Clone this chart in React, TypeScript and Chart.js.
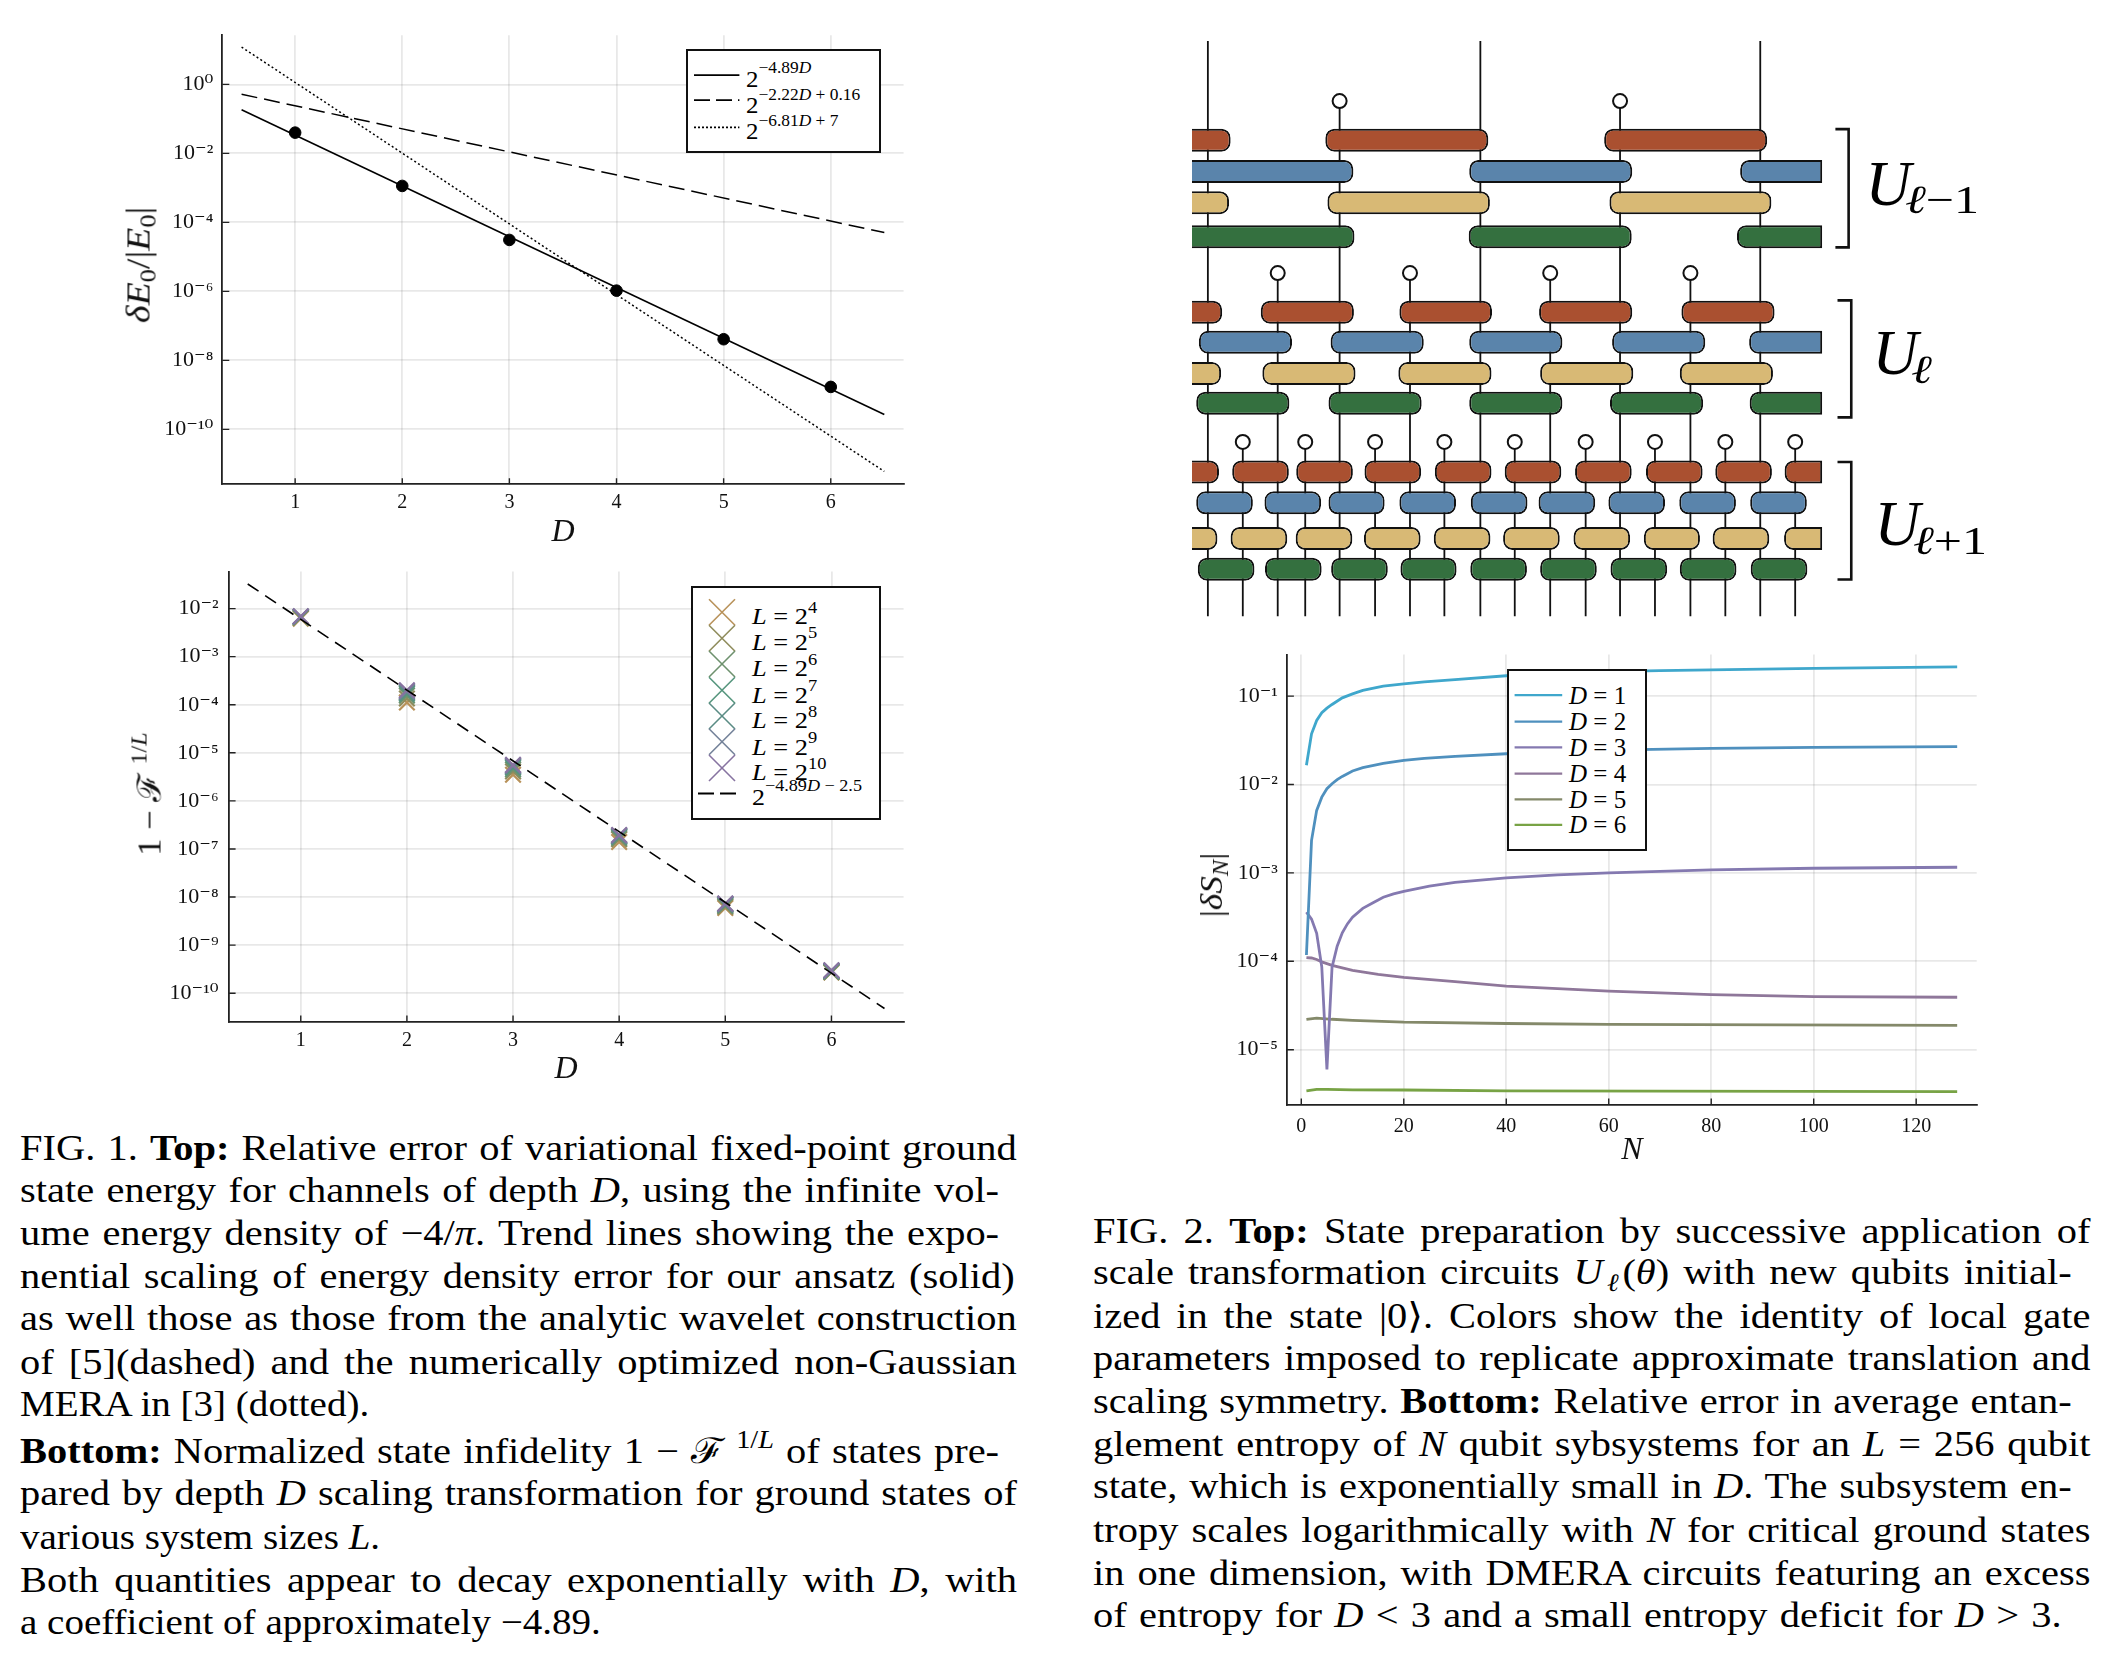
import React, { useEffect, useRef } from "react";
import { Chart, registerables } from "chart.js";

Chart.register(...registerables);

const SERIF = '"Liberation Serif", "DejaVu Serif", serif';

// ---------- Energy error chart ----------
const energyD = [1, 2, 3, 4, 5, 6];
const energyError = [0.04, 1.14e-3, 3.1e-5, 1.05e-6, 4.1e-8, 1.7e-9];
const trendD = [0.5, 6.5];
const trendSolid = [0.184, 2.7e-10];
const trendDashed = [0.518, 5.06e-5];
const trendDotted = [12.1, 6.0e-12];
const energyYTicks = [1, 1e-2, 1e-4, 1e-6, 1e-8, 1e-10];
const energyYLabels = ["10⁰", "10⁻²", "10⁻⁴", "10⁻⁶", "10⁻⁸", "10⁻¹⁰"];
const depthTicks = [1, 2, 3, 4, 5, 6];
const depthLabels = ["1", "2", "3", "4", "5", "6"];

// ---------- Infidelity chart ----------
const infidelityL4 = [6.2e-3, 1.12e-4, 3.5e-6, 1.4e-7, 5.9e-9, 2.7e-10];
const infidelityL5 = [6.4e-3, 1.35e-4, 4.1e-6, 1.6e-7, 6.3e-9, 2.75e-10];
const infidelityL6 = [6.6e-3, 1.55e-4, 4.5e-6, 1.7e-7, 6.6e-9, 2.8e-10];
const infidelityL7 = [6.7e-3, 1.7e-4, 4.9e-6, 1.8e-7, 6.9e-9, 2.85e-10];
const infidelityL8 = [6.8e-3, 1.8e-4, 5.2e-6, 1.85e-7, 7.1e-9, 2.9e-10];
const infidelityL9 = [6.85e-3, 1.9e-4, 5.4e-6, 1.9e-7, 7.2e-9, 2.95e-10];
const infidelityL10 = [6.9e-3, 2.0e-4, 5.6e-6, 1.95e-7, 7.3e-9, 3.0e-10];
const infidelitySeries = [infidelityL4, infidelityL5, infidelityL6, infidelityL7, infidelityL8, infidelityL9, infidelityL10];
const infidelityNames = ["*L* = 2^{4}", "*L* = 2^{5}", "*L* = 2^{6}", "*L* = 2^{7}", "*L* = 2^{8}", "*L* = 2^{9}", "*L* = 2^{10}"];
const infidelityColors = ["#B8925A", "#8F8C5C", "#6E916E", "#55967D", "#5A8C84", "#738299", "#8773A0"];
const infidelityFit = [0.0325, 4.8e-11];
const infidelityYTicks = [1e-2, 1e-3, 1e-4, 1e-5, 1e-6, 1e-7, 1e-8, 1e-9, 1e-10];
const infidelityYLabels = ["10⁻²", "10⁻³", "10⁻⁴", "10⁻⁵", "10⁻⁶", "10⁻⁷", "10⁻⁸", "10⁻⁹", "10⁻¹⁰"];

// ---------- Entropy chart ----------
const entropyD1N = [1, 2, 3, 4, 5, 6, 8, 10, 12, 16, 20, 24, 30, 40, 50, 60, 70, 80, 100, 128];
const entropyD1 = [0.0165, 0.0375, 0.0531, 0.0648, 0.0731, 0.0805, 0.0957, 0.106, 0.116, 0.1297, 0.1377, 0.145, 0.154, 0.17, 0.181, 0.189, 0.194, 0.198, 0.2065, 0.214];
const entropyD2N = [1, 2, 3, 4, 5, 6, 7, 8, 10, 12, 16, 20, 24, 30, 40, 50, 60, 80, 100, 128];
const entropyD2 = [1.18e-4, 2.34e-3, 5.1e-3, 7.2e-3, 8.97e-3, 0.0102, 0.01135, 0.01236, 0.01422, 0.0155, 0.01733, 0.01875, 0.01976, 0.0208, 0.0223, 0.0236, 0.0245, 0.0256, 0.0263, 0.0268];
const entropyD3N = [1, 2, 3, 4, 5, 6, 7, 8, 9, 10, 12, 14, 16, 18, 20, 25, 30, 40, 50, 60, 80, 100, 128];
const entropyD3 = [3.6e-4, 3.0e-4, 2.07e-4, 8.6e-5, 6.0e-6, 8.6e-5, 1.48e-4, 2.1e-4, 2.65e-4, 3.16e-4, 3.97e-4, 4.6e-4, 5.3e-4, 5.8e-4, 6.2e-4, 7.1e-4, 7.8e-4, 8.77e-4, 9.5e-4, 1.0e-3, 1.08e-3, 1.13e-3, 1.16e-3];
const entropyD4N = [1, 2, 3, 4, 6, 10, 15, 20, 30, 40, 50, 60, 80, 100, 128];
const entropyD4 = [1.1e-4, 1.09e-4, 1.05e-4, 9.86e-5, 9.0e-5, 7.9e-5, 7.1e-5, 6.6e-5, 5.9e-5, 5.25e-5, 4.9e-5, 4.6e-5, 4.2e-5, 3.98e-5, 3.92e-5];
const entropyD5N = [1, 3, 6, 10, 20, 40, 60, 128];
const entropyD5 = [2.2e-5, 2.28e-5, 2.21e-5, 2.15e-5, 2.05e-5, 1.98e-5, 1.93e-5, 1.89e-5];
const entropyD6N = [1, 3, 5, 10, 20, 40, 128];
const entropyD6 = [3.42e-6, 3.55e-6, 3.55e-6, 3.52e-6, 3.5e-6, 3.42e-6, 3.36e-6];
const entropyColors = ["#3FA7CC", "#4F90BE", "#8479B0", "#8F779A", "#84896A", "#78A345"];
const entropyNames = ["*D* = 1", "*D* = 2", "*D* = 3", "*D* = 4", "*D* = 5", "*D* = 6"];
const entropyXTicks = [0, 20, 40, 60, 80, 100, 120];
const entropyXLabels = ["0", "20", "40", "60", "80", "100", "120"];
const entropyYTicks = [1e-1, 1e-2, 1e-3, 1e-4, 1e-5];
const entropyYLabels = ["10⁻¹", "10⁻²", "10⁻³", "10⁻⁴", "10⁻⁵"];

// ---------- Circuit diagram, in diagram units ----------
const rowsRed = [304, 739, 1143];
const rowsBlue = [383, 815, 1221];
const rowsTan = [462, 894, 1311];
const rowsGreen = [548, 969, 1389];
const redGates = [
  [[-60, 95], [274, 582], [801, 1109]],
  [[-60, 79], [152, 328], [414, 589], [678, 854], [947, 1123]],
  [[-60, 73], [98, 205], [219, 326], [348, 455], [481, 588], [613, 720], [746, 853], [880, 987], [1011, 1118], [1142, 1213]],
];
const blueGates = [
  [[-60, 327], [546, 854], [1058, 1213]],
  [[35, 211], [284, 460], [546, 722], [816, 992], [1075, 1213]],
  [[30, 137], [159, 266], [280, 386], [414, 521], [549, 656], [677, 784], [809, 916], [943, 1050], [1077, 1184]],
];
const tanGates = [
  [[-60, 92], [278, 585], [811, 1117]],
  [[-60, 77], [155, 331], [412, 588], [680, 856], [944, 1120]],
  [[-60, 70], [95, 202], [218, 325], [347, 454], [479, 586], [610, 717], [743, 850], [876, 982], [1006, 1113], [1141, 1213]],
];
const greenGates = [
  [[-60, 329], [545, 853], [1052, 1213]],
  [[30, 206], [280, 456], [546, 722], [812, 988], [1076, 1213]],
  [[33, 140], [160, 267], [285, 392], [416, 522], [548, 655], [680, 787], [813, 920], [944, 1051], [1078, 1185]],
];
const gateColors = ["#AA5030", "#5A84AB", "#D8B975", "#34703F"];
const wiresFromTop = [52, 567, 1096];
const qubitsOuter = [301, 831];
const qubitsMiddle = [184, 434, 699, 964];
const qubitsInner = [118, 236, 368, 499, 632, 766, 897, 1030, 1162];
const qubitRowY = [205, 640, 1067];
const wireTopY = 53;
const wireBottomY = 1508;
const brackets = [
  [1238, 1263, 276, 575],
  [1242, 1268, 709, 1005],
  [1242, 1268, 1118, 1415],
];

// ---------- Captions ----------
const caption1 = [
  "FIG. 1. **Top:** Relative error of variational fixed-point ground",
  "state energy for channels of depth *D*, using the infinite vol-",
  "ume energy density of −4/*π*. Trend lines showing the expo-",
  "nential scaling of energy density error for our ansatz (solid)",
  "as well those as those from the analytic wavelet construction",
  "of [5](dashed) and the numerically optimized non-Gaussian",
  "MERA in [3] (dotted).",
  "**Bottom:** Normalized state infidelity 1 − ℱ ^{1/*L*} of states pre-",
  "pared by depth *D* scaling transformation for ground states of",
  "various system sizes *L*.",
  "Both quantities appear to decay exponentially with *D*, with",
  "a coefficient of approximately −4.89.",
];
const caption1Baselines = [1160.5, 1202.5, 1245, 1288, 1330.5, 1374, 1416, 1463, 1505.5, 1549, 1592, 1634];
const caption1Rights = [1016.6, 999, 999, 1014.6, 1016.6, 1016.6, 0, 999, 1017, 0, 1017, 0];
const caption2 = [
  "FIG. 2. **Top:** State preparation by successive application of",
  "scale transformation circuits *U*_{*ℓ*}(*θ*) with new qubits initial-",
  "ized in the state |0⟩. Colors show the identity of local gate",
  "parameters imposed to replicate approximate translation and",
  "scaling symmetry. **Bottom:** Relative error in average entan-",
  "glement entropy of *N* qubit sybsystems for an *L* = 256 qubit",
  "state, which is exponentially small in *D*. The subsystem en-",
  "tropy scales logarithmically with *N* for critical ground states",
  "in one dimension, with DMERA circuits featuring an excess",
  "of entropy for *D* < 3 and a small entropy deficit for *D* > 3.",
];
const caption2Baselines = [1243, 1284.6, 1328, 1370.6, 1413, 1456, 1498, 1542, 1585, 1627];
const caption2Rights = [2090.7, 2072, 2090.7, 2090.7, 2072, 2090.7, 2072, 2090.7, 2090.7, 2062];

function Rich({ text }: { text: string }) {
  const parts = text.split(/(\*\*[^*]+\*\*|\^\{[^}]+\}|_\{[^}]+\}|\*[^*]+\*)/).filter(Boolean);
  return (
    <>
      {parts.map((p, i) => {
        if (p.startsWith("**")) return <b key={i}>{p.slice(2, -2)}</b>;
        if (p.startsWith("^{"))
          return (
            <span key={i} style={{ fontSize: "0.7em", position: "relative", top: "var(--sup, -0.6em)", lineHeight: 0 }}>
              <Rich text={p.slice(2, -1)} />
            </span>
          );
        if (p.startsWith("_{"))
          return (
            <span key={i} style={{ fontSize: "0.7em", position: "relative", top: "0.25em", lineHeight: 0 }}>
              <Rich text={p.slice(2, -1)} />
            </span>
          );
        if (p.startsWith("*")) return <i key={i}>{p.slice(1, -1)}</i>;
        return <span key={i}>{p}</span>;
      })}
    </>
  );
}

function Label({ x, base, size, text, width, justify, sx = 1, sup }: any) {
  const style: any = {
    position: "absolute",
    left: x,
    top: base - 0.9375 * size,
    fontFamily: SERIF,
    fontSize: size,
    lineHeight: 1.2,
    color: "#000",
    width: width ? width / sx : undefined,
    textAlign: justify ? "justify" : "left",
    textAlignLast: justify ? "justify" : "left",
    whiteSpace: justify ? "normal" : "nowrap",
    transform: sx !== 1 ? `scaleX(${sx})` : undefined,
    transformOrigin: "left top",
  };
  if (sup) style["--sup"] = sup;
  return (
    <div style={style}>
      <Rich text={text} />
    </div>
  );
}

function VerticalTitle({ cx, cy, size, text, sx = 1 }: any) {
  return (
    <div
      style={{
        position: "absolute",
        left: cx,
        top: cy,
        fontFamily: SERIF,
        fontSize: size,
        lineHeight: 1,
        whiteSpace: "nowrap",
        color: "#111",
        transform: `translate(-50%, -50%) rotate(-90deg) scaleX(${sx})`,
      }}
    >
      <Rich text={text} />
    </div>
  );
}

function ChartBox({ left, top, width, height, config }: any) {
  const ref = useRef<HTMLCanvasElement | null>(null);
  useEffect(() => {
    const chart = new Chart(ref.current as HTMLCanvasElement, config);
    return () => chart.destroy();
  }, []);
  return <canvas ref={ref} width={width} height={height} style={{ position: "absolute", left, top, width, height }} />;
}

const inwardTicks = {
  id: "inwardTicks",
  afterDatasetsDraw(chart: any) {
    const { ctx, chartArea, scales } = chart;
    ctx.save();
    ctx.strokeStyle = "#222";
    ctx.lineWidth = 1.4;
    ctx.beginPath();
    scales.x.ticks.forEach((_: any, i: number) => {
      const p = scales.x.getPixelForTick(i);
      ctx.moveTo(p, chartArea.bottom);
      ctx.lineTo(p, chartArea.bottom - 6);
    });
    scales.y.ticks.forEach((_: any, i: number) => {
      const p = scales.y.getPixelForTick(i);
      ctx.moveTo(chartArea.left, p);
      ctx.lineTo(chartArea.left + 7, p);
    });
    ctx.stroke();
    ctx.restore();
  },
};

function axis(o: any) {
  const { type, min, max, ticks, labels, size, title, padding } = o;
  const isX = o.pos === "x";
  return {
    type,
    min,
    max,
    position: isX ? "bottom" : "left",
    afterBuildTicks(scale: any) {
      scale.ticks = ticks.map((value: number) => ({ value }));
    },
    afterFit(scale: any) {
      if (isX) scale.height = size;
      else scale.width = size;
      scale.paddingTop = 0;
      scale.paddingBottom = 0;
      scale.paddingLeft = 0;
      scale.paddingRight = 0;
    },
    grid: { color: "rgba(0,0,0,0.09)", lineWidth: 1.8, drawTicks: false },
    border: { display: true, color: "#222", width: 1.8 },
    ticks: {
      autoSkip: false,
      maxRotation: 0,
      padding,
      color: "#111",
      font: { family: SERIF, size: isX ? 20 : 22 },
      callback: (_v: any, i: number) => labels[i],
    },
    title: {
      display: !!title,
      text: title,
      color: "#111",
      padding: 0,
      font: { family: SERIF, size: 32, style: "italic", lineHeight: "36px" },
    },
  };
}

function baseOptions(x: any, y: any, padding: any) {
  return {
    animation: false,
    responsive: false,
    devicePixelRatio: 1,
    layout: { padding, autoPadding: false },
    plugins: { legend: { display: false }, tooltip: { enabled: false } },
    scales: { x: axis({ ...x, pos: "x" }), y: axis({ ...y, pos: "y" }) },
  };
}

const toPoints = (xs: number[], ys: number[]) => xs.map((x, i) => ({ x, y: ys[i] }));

const energyConfig: any = {
  type: "scatter",
  plugins: [inwardTicks],
  data: {
    datasets: [
      { label: "data", data: toPoints(energyD, energyError), pointRadius: 5.8, backgroundColor: "#000", borderColor: "#000" },
      { label: "2^(-4.89D)", data: toPoints(trendD, trendSolid), showLine: true, pointRadius: 0, borderColor: "#000", borderWidth: 1.6 },
      { label: "2^(-2.22D+0.16)", data: toPoints(trendD, trendDashed), showLine: true, pointRadius: 0, borderColor: "#000", borderWidth: 1.5, borderDash: [16, 7] },
      { label: "2^(-6.81D+7)", data: toPoints(trendD, trendDotted), showLine: true, pointRadius: 0, borderColor: "#000", borderWidth: 1.5, borderDash: [2, 2.5] },
    ],
  },
  options: baseOptions(
    { type: "linear", min: 0.32, max: 6.68, ticks: depthTicks, labels: depthLabels, size: 66.8, title: "D", padding: 7 },
    { type: "logarithmic", min: 2.57e-12, max: 26.7, ticks: energyYTicks, labels: energyYLabels, size: 102.3, padding: 9 },
    { top: 10.2, right: 12.4, left: 0, bottom: 0 }
  ),
};

const infidelityConfig: any = {
  type: "scatter",
  plugins: [inwardTicks],
  data: {
    datasets: [
      { label: "fit", order: 0, data: toPoints(trendD, infidelityFit), showLine: true, pointRadius: 0, borderColor: "#000", borderWidth: 1.6, borderDash: [13, 8] },
      ...infidelitySeries.map((s, i) => ({
        label: infidelityNames[i],
        order: 7 - i,
        data: toPoints(depthTicks, s),
        pointStyle: "crossRot",
        pointRadius: 11,
        pointBorderWidth: 2.2,
        borderColor: infidelityColors[i],
        backgroundColor: infidelityColors[i],
      })),
    ],
  },
  options: baseOptions(
    { type: "linear", min: 0.32, max: 6.68, ticks: depthTicks, labels: depthLabels, size: 66.6, title: "D", padding: 7 },
    { type: "logarithmic", min: 2.59e-11, max: 0.0594, ticks: infidelityYTicks, labels: infidelityYLabels, size: 96.6, padding: 10 },
    { top: 10.4, right: 12.4, left: 0, bottom: 0 }
  ),
};

const entropyLine = (i: number, xs: number[], ys: number[]) => ({
  label: "D=" + (i + 1),
  data: toPoints(xs, ys),
  showLine: true,
  pointRadius: 0,
  borderColor: entropyColors[i],
  borderWidth: 2.8,
});

const entropyConfig: any = {
  type: "scatter",
  plugins: [inwardTicks],
  data: {
    datasets: [
      entropyLine(0, entropyD1N, entropyD1),
      entropyLine(1, entropyD2N, entropyD2),
      entropyLine(2, entropyD3N, entropyD3),
      entropyLine(3, entropyD4N, entropyD4),
      entropyLine(4, entropyD5N, entropyD5),
      entropyLine(5, entropyD6N, entropyD6),
    ],
  },
  options: baseOptions(
    { type: "linear", min: -2.81, max: 131.81, ticks: entropyXTicks, labels: entropyXLabels, size: 64.5, title: "N", padding: 10 },
    { type: "logarithmic", min: 2.4e-6, max: 0.2958, ticks: entropyYTicks, labels: entropyYLabels, size: 93.9, padding: 9 },
    { top: 9.5, right: 14.3, left: 0, bottom: 0 }
  ),
};

// diagram: all gates in one horizontal floating-bar dataset
const gateGroups = [
  { rows: rowsRed, gates: redGates, color: gateColors[0] },
  { rows: rowsBlue, gates: blueGates, color: gateColors[1] },
  { rows: rowsTan, gates: tanGates, color: gateColors[2] },
  { rows: rowsGreen, gates: greenGates, color: gateColors[3] },
];
const gateItems: any[] = [];
gateGroups.forEach((g) =>
  g.gates.forEach((row, r) =>
    row.forEach((span) => gateItems.push({ x: span, y: g.rows[r], color: g.color, flat: span[1] === 1213 }))
  )
);
const wire = (x: number, top: number) => ({
  type: "line",
  order: 3,
  data: [{ x, y: top }, { x, y: wireBottomY }],
  borderColor: "#111",
  borderWidth: 1.8,
  pointRadius: 0,
});
const qubits = (xs: number[], y: number) => ({
  type: "line",
  order: 0,
  showLine: false,
  data: xs.map((x) => ({ x, y })),
  pointRadius: 7,
  pointBorderWidth: 2,
  pointBackgroundColor: "#fff",
  pointBorderColor: "#111",
});
const diagramConfig: any = {
  type: "bar",
  data: {
    datasets: [
      ...wiresFromTop.map((x) => wire(x, wireTopY)),
      ...qubitsOuter.map((x) => wire(x, qubitRowY[0])),
      ...qubitsMiddle.map((x) => wire(x, qubitRowY[1])),
      ...qubitsInner.map((x) => wire(x, qubitRowY[2])),
      qubits(qubitsOuter, qubitRowY[0]),
      qubits(qubitsMiddle, qubitRowY[1]),
      qubits(qubitsInner, qubitRowY[2]),
      {
        type: "bar",
        order: 1,
        indexAxis: "y",
        data: gateItems,
        barThickness: 23,
        backgroundColor: gateItems.map((g) => g.color),
        borderColor: "#111",
        borderWidth: 2,
        borderSkipped: false,
        inflateAmount: 0,
        borderRadius: (c: any) =>
          gateItems[c.dataIndex].flat
            ? { topLeft: 9, bottomLeft: 9, topRight: 0, bottomRight: 0 }
            : { topLeft: 9, bottomLeft: 9, topRight: 9, bottomRight: 9 },
      },
      ...brackets.map(([a, b, t, u]) => ({
        type: "line",
        order: 2,
        data: [{ x: a, y: t }, { x: b, y: t }, { x: b, y: u }, { x: a, y: u }],
        borderColor: "#111",
        borderWidth: 2.6,
        pointRadius: 0,
      })),
    ],
  },
  options: {
    animation: false,
    responsive: false,
    devicePixelRatio: 1,
    layout: { padding: 0, autoPadding: false },
    plugins: { legend: { display: false }, tooltip: { enabled: false } },
    scales: {
      x: { type: "linear", min: 22, max: 1568, display: false, offset: false },
      y: { type: "linear", min: 0, max: 1568, reverse: true, display: false, offset: false },
    },
  },
};

function Box({ left, top, right, bottom }: any) {
  return (
    <div
      style={{
        position: "absolute",
        left,
        top,
        width: right - left,
        height: bottom - top,
        boxSizing: "border-box",
        border: "2px solid #111",
        background: "#fff",
      }}
    />
  );
}

function Overlay({ children, left, top, width, height }: any) {
  return (
    <svg style={{ position: "absolute", left, top }} width={width} height={height} viewBox={`${left} ${top} ${width} ${height}`}>
      {children}
    </svg>
  );
}

export default function App() {
  const energyRows = [
    { text: "2^{−4.89*D*}", dash: undefined, y: 75.1, base: 87.6 },
    { text: "2^{−2.22*D* + 0.16}", dash: "16 6", y: 100.2, base: 114 },
    { text: "2^{−6.81*D* + 7}", dash: "2 2", y: 127.4, base: 140 },
  ];
  const markY = [612.3, 638.2, 664, 690.2, 716, 741.8, 768];
  const nameBase = [624.8, 650.6, 676.8, 703, 728.8, 755, 780.8];
  const entropyY = [695.1, 721.6, 747.4, 773.6, 799.4, 824.9];
  return (
    <div style={{ position: "absolute", left: 0, top: 0, width: 2114, height: 1654, background: "#fff", overflow: "hidden" }}>
      <ChartBox left={120} top={25} width={796} height={526} config={energyConfig} />
      <ChartBox left={132} top={561} width={784} height={527} config={infidelityConfig} />
      <ChartBox left={1193} top={645} width={798} height={524} config={entropyConfig} />
      <ChartBox left={1192} top={20} width={818} height={620} config={diagramConfig} />

      <VerticalTitle cx={138.6} cy={264.5} size={33} sx={1.15} text="*δE*_{0}/|*E*_{0}|" />
      <VerticalTitle cx={150.3} cy={794} size={33} text="1 − ℱ ^{1/*L*}" sx={1.05} />
      <VerticalTitle cx={1210.7} cy={885} size={32} sx={1.1} text="|*δS*_{*N*}|" />

      {/* diagram labels */}
      <Label x={1865.5} base={205.8} size={63} text="*U*" />
      <Label x={1905} base={213.8} size={40} sx={1.25} text="*ℓ*−1" />
      <Label x={1872.4} base={375} size={63} text="*U*" />
      <Label x={1910.5} base={383.8} size={40} sx={1.25} text="*ℓ*" />
      <Label x={1874.5} base={546} size={63} text="*U*" />
      <Label x={1913} base={554.6} size={40} sx={1.25} text="*ℓ*+1" />

      {/* energy legend */}
      <Box left={686} top={49} right={881} bottom={153} />
      <Overlay left={686} top={49} width={195} height={104}>
        {energyRows.map((r, i) => (
          <line key={i} x1={694} x2={739.4} y1={r.y} y2={r.y} stroke="#000" strokeWidth={1.8} strokeDasharray={r.dash} />
        ))}
      </Overlay>
      {energyRows.map((r, i) => (
        <Label key={i} x={745.8} base={r.base} size={23} sx={1.08} sup="-0.85em" text={r.text} />
      ))}

      {/* infidelity legend */}
      <Box left={691} top={586} right={881} bottom={820} />
      <Overlay left={691} top={586} width={190} height={234}>
        {markY.map((y, i) => (
          <g key={i} stroke={infidelityColors[i]} strokeWidth={1.6}>
            <line x1={709} x2={735} y1={y - 13} y2={y + 13} />
            <line x1={709} x2={735} y1={y + 13} y2={y - 13} />
          </g>
        ))}
        <line x1={698} x2={742} y1={793.5} y2={793.5} stroke="#000" strokeWidth={1.8} strokeDasharray="16 6" />
      </Overlay>
      {infidelityNames.map((n, i) => (
        <Label key={i} x={752.2} base={nameBase[i]} size={24} sx={1.1} sup="-0.7em" text={n} />
      ))}
      <Label x={752.2} base={805.6} size={24} sx={1.08} sup="-0.85em" text="2^{−4.89*D* − 2.5}" />

      {/* entropy legend */}
      <Box left={1507} top={669} right={1647} bottom={851} />
      <Overlay left={1507} top={669} width={140} height={182}>
        {entropyY.map((y, i) => (
          <line key={i} x1={1514.6} x2={1562.2} y1={y} y2={y} stroke={entropyColors[i]} strokeWidth={2.4} />
        ))}
      </Overlay>
      {entropyNames.map((n, i) => (
        <Label key={i} x={1569} base={entropyY[i] + 9} size={25} text={n} />
      ))}

      {/* captions */}
      {caption1.map((t, i) =>
        caption1Rights[i] ? (
          <Label key={i} x={19.9} base={caption1Baselines[i]} size={35.5} sx={1.14} width={caption1Rights[i] - 19.9} justify text={t} />
        ) : (
          <Label key={i} x={19.9} base={caption1Baselines[i]} size={35.5} sx={1.1} text={t} />
        )
      )}
      {caption2.map((t, i) => (
        <Label key={i} x={1093.3} base={caption2Baselines[i]} size={35.5} sx={1.14} width={caption2Rights[i] - 1093.3} justify text={t} />
      ))}
    </div>
  );
}
